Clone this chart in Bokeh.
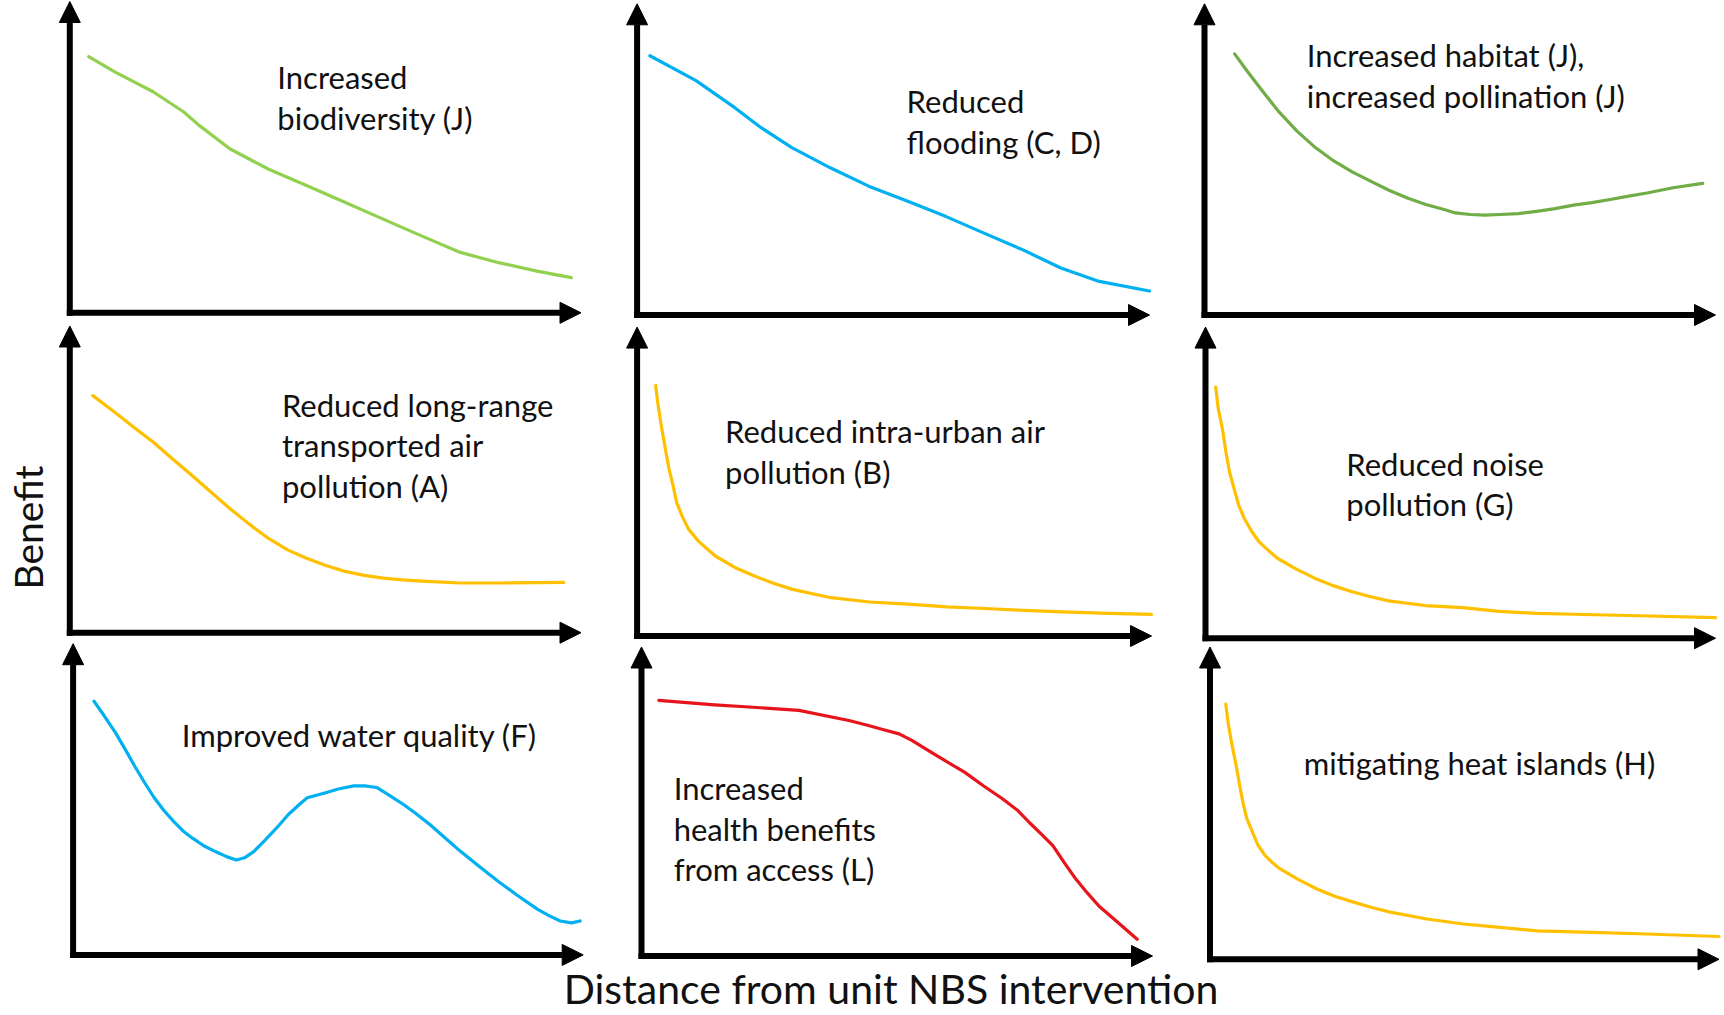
import math
from bokeh.plotting import figure
from bokeh.models import Range1d, Arrow, NormalHead, Label
from bokeh.embed import file_html
from bokeh.resources import INLINE

# ---- curve data: x = share of distance axis, y = share of benefit axis ----
biodiv_x = [0.037, 0.088, 0.163, 0.223, 0.253, 0.313, 0.388, 0.463, 0.538, 0.613, 0.688, 0.764, 0.839, 0.914, 0.981]
biodiv_y = [0.823, 0.774, 0.710, 0.645, 0.602, 0.527, 0.462, 0.409, 0.355, 0.301, 0.247, 0.194, 0.161, 0.134, 0.113]

flood_x = [0.025, 0.115, 0.190, 0.242, 0.302, 0.377, 0.452, 0.527, 0.602, 0.677, 0.752, 0.827, 0.902, 1.000]
flood_y = [0.833, 0.753, 0.667, 0.602, 0.538, 0.473, 0.414, 0.366, 0.317, 0.263, 0.210, 0.151, 0.108, 0.077]

habitat_x = [0.059, 0.083, 0.108, 0.144, 0.181, 0.217, 0.253, 0.289, 0.325, 0.361, 0.397, 0.433, 0.469, 0.491,
             0.520, 0.549, 0.578, 0.614, 0.650, 0.686, 0.722, 0.758, 0.794, 0.830, 0.866, 0.917, 0.975]
habitat_y = [0.839, 0.785, 0.731, 0.656, 0.591, 0.538, 0.495, 0.460, 0.430, 0.401, 0.376, 0.355, 0.339, 0.328,
             0.323, 0.321, 0.323, 0.326, 0.333, 0.342, 0.353, 0.361, 0.371, 0.382, 0.392, 0.409, 0.423]

longair_x = [0.045, 0.088, 0.125, 0.163, 0.200, 0.238, 0.276, 0.313, 0.351, 0.388, 0.426, 0.463, 0.501, 0.538,
             0.576, 0.613, 0.651, 0.688, 0.764, 0.839, 0.966]
longair_y = [0.773, 0.719, 0.670, 0.622, 0.568, 0.514, 0.459, 0.405, 0.354, 0.308, 0.270, 0.243, 0.219, 0.200,
             0.187, 0.178, 0.172, 0.168, 0.162, 0.162, 0.164]

urbanair_x = [0.036, 0.040, 0.047, 0.055, 0.062, 0.070, 0.077, 0.0885, 0.100, 0.1185, 0.137, 0.152, 0.190,
              0.227, 0.265, 0.302, 0.377, 0.452, 0.527, 0.602, 0.677, 0.752, 0.827, 0.902, 1.000]
urbanair_y = [0.811, 0.757, 0.681, 0.605, 0.541, 0.486, 0.432, 0.384, 0.346, 0.308, 0.281, 0.259, 0.222,
              0.195, 0.171, 0.151, 0.124, 0.110, 0.103, 0.094, 0.089, 0.083, 0.078, 0.074, 0.070]

noise_x = [0.020, 0.025, 0.033, 0.040, 0.047, 0.056, 0.065, 0.076, 0.091, 0.105, 0.120, 0.141, 0.178, 0.214,
           0.250, 0.286, 0.322, 0.359, 0.431, 0.504, 0.576, 0.649, 0.721, 0.830, 1.000]
noise_y = [0.807, 0.738, 0.674, 0.599, 0.535, 0.481, 0.428, 0.385, 0.342, 0.310, 0.287, 0.257, 0.222, 0.193,
           0.169, 0.150, 0.134, 0.120, 0.105, 0.098, 0.086, 0.080, 0.077, 0.073, 0.066]

water_x = [0.041, 0.062, 0.084, 0.103, 0.122, 0.140, 0.159, 0.178, 0.197, 0.215, 0.234, 0.257, 0.279, 0.302,
           0.320, 0.336, 0.354, 0.377, 0.399, 0.422, 0.444, 0.459, 0.497, 0.520, 0.550, 0.572, 0.595, 0.617,
           0.647, 0.670, 0.700, 0.730, 0.760, 0.797, 0.835, 0.872, 0.910, 0.932, 0.955, 0.977, 0.994]
water_y = [0.815, 0.766, 0.712, 0.658, 0.603, 0.554, 0.505, 0.464, 0.429, 0.399, 0.375, 0.350, 0.332, 0.315,
           0.305, 0.312, 0.332, 0.370, 0.408, 0.451, 0.484, 0.505, 0.522, 0.533, 0.543, 0.543, 0.538, 0.516,
           0.484, 0.457, 0.418, 0.375, 0.332, 0.283, 0.234, 0.190, 0.147, 0.127, 0.109, 0.103, 0.109]

health_x = [0.034, 0.143, 0.218, 0.308, 0.406, 0.444, 0.474, 0.504, 0.530, 0.556, 0.594, 0.632, 0.669, 0.707,
            0.737, 0.759, 0.782, 0.805, 0.827, 0.850, 0.872, 0.895, 0.925, 0.970]
health_y = [0.827, 0.813, 0.805, 0.795, 0.762, 0.746, 0.732, 0.719, 0.697, 0.670, 0.632, 0.595, 0.551, 0.508,
            0.470, 0.432, 0.395, 0.357, 0.303, 0.249, 0.205, 0.162, 0.119, 0.054]

heat_x = [0.031, 0.036, 0.043, 0.051, 0.058, 0.065, 0.072, 0.083, 0.094, 0.108, 0.123, 0.137, 0.173, 0.209,
          0.245, 0.282, 0.318, 0.354, 0.426, 0.498, 0.570, 0.643, 0.751, 0.859, 1.000]
heat_y = [0.817, 0.753, 0.688, 0.624, 0.559, 0.500, 0.452, 0.409, 0.366, 0.333, 0.309, 0.290, 0.256, 0.226,
          0.202, 0.183, 0.166, 0.151, 0.129, 0.113, 0.102, 0.091, 0.086, 0.081, 0.073]

# ---- text ----
benefit_labels = [
    ["Increased", "biodiversity (J)"],
    ["Reduced", "flooding (C, D)"],
    ["Increased habitat (J),", "increased pollination (J)"],
    ["Reduced long-range", "transported air", "pollution (A)"],
    ["Reduced intra-urban air", "pollution (B)"],
    ["Reduced noise", "pollution (G)"],
    ["Improved water quality (F)"],
    ["Increased", "health benefits", "from access (L)"],
    ["mitigating heat islands (H)"],
]
y_title = "Benefit"
x_title = "Distance from unit NBS intervention"

curves = [
    (biodiv_x, biodiv_y), (flood_x, flood_y), (habitat_x, habitat_y),
    (longair_x, longair_y), (urbanair_x, urbanair_y), (noise_x, noise_y),
    (water_x, water_y), (health_x, health_y), (heat_x, heat_y),
]
colors = ["#92D050", "#00B0F0", "#70AD47",
          "#FFC000", "#FFC000", "#FFC000",
          "#00B0F0", "#E8141C", "#FFC000"]

# ---- layout: axis origin / arrow tips of each small panel (page px, top-left origin) ----
W, H = 1724, 1015
panel_axes = [
    # origin x, origin y, x-arrow tip, y-arrow tip
    (69.3, 312.3, 580.5, 1.0),
    (636.6, 314.5, 1149.0, 3.3),
    (1204.0, 314.5, 1715.0, 3.3),
    (69.3, 632.2, 580.5, 325.5),
    (636.6, 635.5, 1151.0, 326.6),
    (1205.0, 637.7, 1715.0, 326.6),
    (72.6, 954.4, 582.7, 643.2),
    (641.0, 955.5, 1152.0, 646.5),
    (1209.5, 958.8, 1718.5, 646.5),
]
# first text line anchor in panel units
label_anchor = [
    (0.406, 0.717), (0.526, 0.647), (0.200, 0.795),
    (0.415, 0.702), (0.171, 0.623), (0.276, 0.520),
    (0.213, 0.666), (0.063, 0.503), (0.184, 0.589),
]

FONT = "Lato"
LINE_STEP = 40.5
TEXT_LIFT = 12.5   # baseline correction for panel captions (px)

p = figure(width=W, height=H, x_range=Range1d(0, W), y_range=Range1d(0, H),
           x_axis_type=None, y_axis_type=None, output_backend="svg",
           toolbar_location=None, min_border=0)
p.grid.visible = False
p.outline_line_color = None
p.background_fill_color = "white"
p.border_fill_color = "white"

for i, (ox, oy, xt, yt) in enumerate(panel_axes):
    lx = xt - ox
    oyb = H - oy
    ly = (H - yt) - oyb
    xr, yr = f"px{i}", f"py{i}"
    p.extra_x_ranges[xr] = Range1d(-ox / lx, (W - ox) / lx)
    p.extra_y_ranges[yr] = Range1d(-oyb / ly, (H - oyb) / ly)

    # axes with arrow heads
    p.add_layout(Arrow(end=NormalHead(size=21, fill_color="black", line_color="black", line_width=1),
                       x_start=-3.0 / lx, y_start=0, x_end=1, y_end=0,
                       line_width=6, line_color="black",
                       x_range_name=xr, y_range_name=yr))
    p.add_layout(Arrow(end=NormalHead(size=21, fill_color="black", line_color="black", line_width=1),
                       x_start=0, y_start=-3.0 / ly, x_end=0, y_end=1,
                       line_width=6, line_color="black",
                       x_range_name=xr, y_range_name=yr))

    cx, cy = curves[i]
    p.line(cx, cy, line_color=colors[i], line_width=3.2, line_join="round", line_cap="round",
           x_range_name=xr, y_range_name=yr)

    ax, ay = label_anchor[i]
    for j, txt in enumerate(benefit_labels[i]):
        p.add_layout(Label(x=ax, y=ay, y_offset=TEXT_LIFT - j * LINE_STEP, text=txt,
                           text_font=FONT, text_font_size="31px", text_color="#111111",
                           text_align="left", text_baseline="alphabetic",
                           x_range_name=xr, y_range_name=yr))

p.add_layout(Label(x=27, y=488, text=y_title,
                   angle=math.pi / 2, text_align="center", text_baseline="alphabetic",
                   text_font=FONT, text_font_size="39px", text_color="#111111"))
p.add_layout(Label(x=890.6, y=27, text=x_title,
                   text_align="center", text_baseline="alphabetic",
                   text_font=FONT, text_font_size="41px", text_color="#111111"))

open("out.html", "w").write(file_html(p, INLINE))
